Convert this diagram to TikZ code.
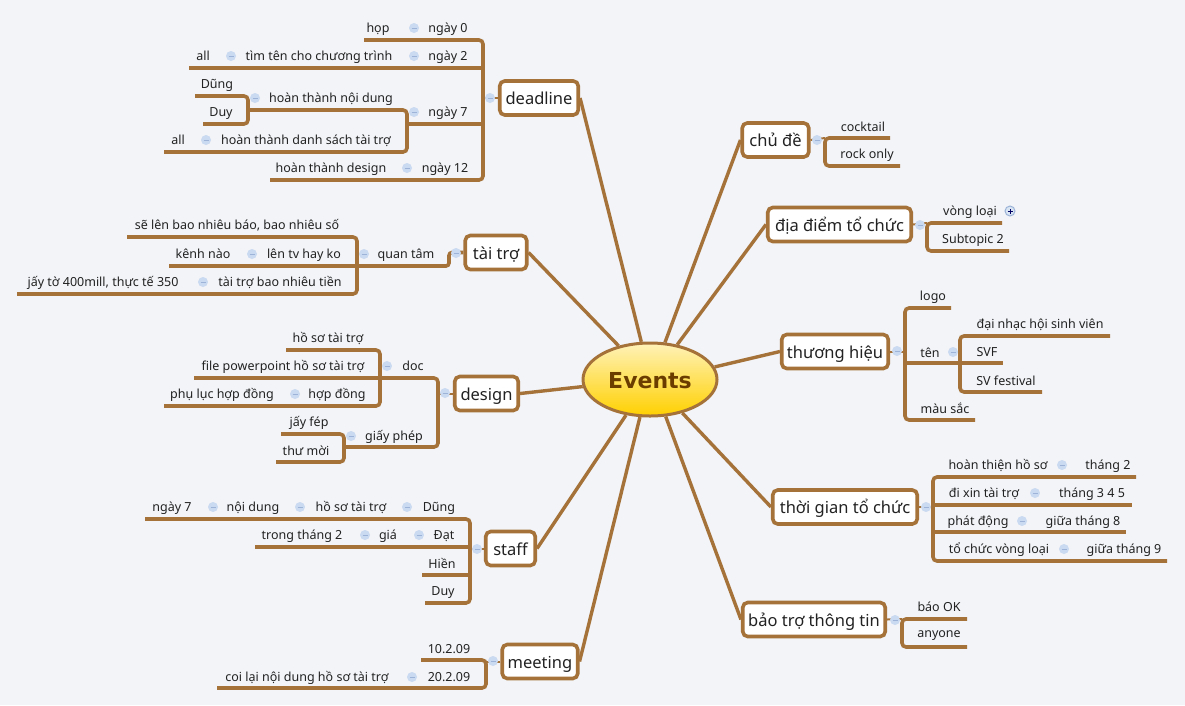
\documentclass[tikz,border=0pt]{standalone}
\usepackage{fontspec}
\setmainfont{Noto Sans}
\newfontfamily\evfont{DejaVu Sans}
\usetikzlibrary{shapes.geometric,calc}
\definecolor{bgc}{HTML}{F2F4F8}
\definecolor{brn}{HTML}{A5723A}
\definecolor{ink}{HTML}{222222}
\definecolor{icfill}{HTML}{CADAF0}
\definecolor{icmark}{HTML}{9DB4D8}
\definecolor{evtop}{HTML}{FFF2B8}
\definecolor{evbot}{HTML}{FFD000}
\definecolor{evink}{HTML}{6B3E00}
\tikzset{
  main/.style={draw=brn,line width=3.4pt},
  branch/.style={draw=brn,line width=3.6pt,rounded corners=4pt,line cap=butt},
  stub/.style={draw=brn,line width=2pt},
  topic/.style={draw=brn,fill=white,line width=3.6pt,rounded corners=5pt,inner sep=0pt,
    text=ink,font=\fontsize{16.5}{20}\selectfont,minimum height=34pt,text height=13pt,text depth=0pt},
  leaf/.style={anchor=base,inner sep=0pt,text=ink,font=\fontsize{12.5}{15}\selectfont},
  icon/.style={circle,fill=icfill,inner sep=0pt,minimum size=10pt,
    path picture={\draw[icmark,line width=1pt]
      ([xshift=-2.5pt]path picture bounding box.center) -- ([xshift=2.5pt]path picture bounding box.center);}},
  iconplus/.style={circle,draw=icmark,line width=1pt,fill=icfill!70,inner sep=0pt,minimum size=10pt,
    path picture={\draw[black!60!blue,line width=.9pt]
      ([xshift=-2.5pt]path picture bounding box.center) -- ([xshift=2.5pt]path picture bounding box.center)
      ([yshift=-2.5pt]path picture bounding box.center) -- ([yshift=2.5pt]path picture bounding box.center);}},
  central/.style={ellipse,draw=brn,line width=3pt,top color=evtop,bottom color=evbot,
    minimum width=134pt,minimum height=73pt,inner sep=0pt},
}
\newcounter{icn}
\newcommand{\ic}[2]{\stepcounter{icn}\node[icon] (ic\theicn) at (#1,#2) {};}
\newcommand{\tx}[4]{\node[leaf] (#1) at (#2,#3+4.5) {#4};}
\newcommand{\pt}[3]{\coordinate (#1) at (#2,#3);}
\newcommand{\tp}[6]{\node[topic,minimum width=#5pt] (#1) at (#2,#3) {#6};}
\begin{document}
\begin{tikzpicture}[x=1pt,y=-1pt]
\useasboundingbox (0,0) rectangle (1185,705);
\fill[bgc] (0,0) rectangle (1185,705);
% central and main topics
\node[central] (ev) at (650,379.5) {};
\tp{deadline}{539}{98}{}{78.5}{deadline}
\tp{taitro}{496}{252.5}{}{61.5}{tài trợ}
\tp{design}{486.5}{393.5}{}{63.5}{design}
\tp{staff}{510.5}{548.5}{}{49.5}{staff}
\tp{meeting}{540}{661.5}{}{75.5}{meeting}
\tp{chude}{775.5}{140}{}{66.5}{chủ đề}
\tp{diadiem}{839.5}{224.5}{}{143.5}{địa điểm tổ chức}
\tp{thuonghieu}{835}{351.5}{}{106.5}{thương hiệu}
\tp{thoigian}{845}{507}{}{144.5}{thời gian tổ chức}
\tp{baotro}{814}{619.5}{}{142.5}{bảo trợ thông tin}
\draw[main] (deadline.east) -- (ev.103.5);
\draw[main] (taitro.east) -- (ev.133);
\draw[main] (design.east) -- (ev.186);
\draw[main] (staff.east) -- (ev.236);
\draw[main] (meeting.east) -- (ev.255);
\draw[main] (chude.west) -- (ev.68.7);
\draw[main] (diadiem.west) -- (ev.52.5);
\draw[main] (thuonghieu.west) -- (ev.11.5);
\draw[main] (thoigian.west) -- (ev.314);
\draw[main] (baotro.west) -- (ev.293);
% deadline branch
\pt{dS}{483}{0}\pt{dT}{407}{0}\pt{dU}{248}{0}
\pt{d0}{364}{40}\pt{d1}{189}{68}\pt{d2}{407}{124}\pt{d3}{270}{180}
\pt{d4}{248}{110}\pt{d5}{164}{152}\pt{d6}{195}{96}\pt{d7}{203}{124}
\draw[branch] (d0) -- (d0 -| dS) -- (d3 -| dS) -- (d3);
\draw[branch] (d1) -- (d1 -| dS);
\draw[branch] (d2) -- (d2 -| dS);
\draw[branch] (d4) -- (d4 -| dT) -- (d5 -| dT) -- (d5);
\draw[branch] (d6) -- (d6 -| dU) -- (d7 -| dU) -- (d7);
\draw[stub] (deadline.west) -- (deadline.west -| dS);
\tx{a1}{378}{28}{họp}\ic{414}{28}\tx{a2}{448}{28}{ngày 0}
\tx{a3}{203}{56}{all}\ic{231}{56}\tx{a4}{319}{56}{tìm tên cho chương trình}\ic{414}{56}\tx{a5}{448}{56}{ngày 2}
\tx{a6}{217}{84}{Dũng}\tx{a7}{221}{112}{Duy}\ic{255}{98}\tx{a8}{331}{98}{hoàn thành nội dung}\ic{414}{112}\tx{a9}{448}{112}{ngày 7}
\tx{a10}{178}{140}{all}\ic{206}{140}\tx{a11}{306}{140}{hoàn thành danh sách tài trợ}
\tx{a12}{331}{168}{hoàn thành design}\ic{407}{168}\tx{a13}{445}{168}{ngày 12}
\ic{490}{98}
% tai tro branch
\pt{tS}{357}{0}\pt{tV}{449}{0}
\pt{t0}{127}{237}\pt{t1}{169}{266}\pt{t2}{17}{294}
\draw[branch] (t0) -- (t0 -| tS) -- (t2 -| tS) -- (t2);
\draw[branch,rounded corners=3pt] (t1) -- (t1 -| tV) -- (tV |- taitro.west) -- (taitro.west);
\tx{b1}{237}{225}{sẽ lên bao nhiêu báo, bao nhiêu số}
\tx{b2}{203}{254}{kênh nào}\ic{252}{254}\tx{b3}{304}{254}{lên tv hay ko}\ic{364}{254}\tx{b4}{406}{254}{quan tâm}
\tx{b5}{103}{282}{jấy tờ 400mill, thực tế 350}\ic{203}{282}\tx{b6}{280}{282}{tài trợ bao nhiêu tiền}
\ic{456}{253}
% design branch
\pt{eS}{380}{0}\pt{eT}{438}{0}\pt{eU}{344}{0}
\pt{e0}{286}{350}\pt{e1}{194}{378}\pt{e2}{164}{406}\pt{e3}{344}{447}\pt{e4}{281}{434}\pt{e5}{276}{462}
\draw[branch] (e0) -- (e0 -| eS) -- (e2 -| eS) -- (e2);
\draw[branch] (e1) -- (e1 -| eT) -- (e3 -| eT) -- (e3);
\draw[branch] (e4) -- (e4 -| eU) -- (e5 -| eU) -- (e5);
\draw[stub] (design.west) -- (design.west -| eT);
\tx{c1}{328}{338}{hồ sơ tài trợ}\tx{c2}{283}{366}{file powerpoint hồ sơ tài trợ}\ic{387}{366}\tx{c3}{413}{366}{doc}
\tx{c4}{222}{394}{phụ lục hợp đồng}\ic{295}{394}\tx{c5}{337}{394}{hợp đồng}
\tx{c6}{309}{422}{jấy fép}\tx{c7}{306}{451}{thư mời}\ic{351}{436}\tx{c8}{394}{436}{giấy phép}
\ic{445}{393}
% staff branch
\pt{fS}{470}{0}
\pt{f0}{145}{519}\pt{f1}{255}{547}\pt{f2}{422}{575}\pt{f3}{425}{603}
\draw[branch] (f0) -- (f0 -| fS) -- (f3 -| fS) -- (f3);
\draw[branch] (f1) -- (f1 -| fS);
\draw[branch] (f2) -- (f2 -| fS);
\draw[stub] (staff.west) -- (staff.west -| fS);
\tx{g1}{172}{507}{ngày 7}\ic{213}{507}\tx{g2}{253}{507}{nội dung}\ic{300}{507}\tx{g3}{351}{507}{hồ sơ tài trợ}\ic{407}{507}\tx{g4}{439}{507}{Dũng}
\tx{g5}{302}{535}{trong tháng 2}\ic{365}{535}\tx{g6}{388}{535}{giá}\ic{419}{535}\tx{g7}{444}{535}{Đạt}
\tx{g8}{442}{564}{Hiền}\tx{g9}{443}{591}{Duy}
\ic{477}{549}
% meeting branch
\pt{hS}{486}{0}\pt{h0}{421}{660}\pt{h1}{217}{688}
\draw[branch] (h0) -- (h0 -| hS) -- (h1 -| hS) -- (h1);
\draw[stub] (meeting.west) -- (meeting.west -| hS);
\tx{j1}{449}{649}{10.2.09}\tx{j2}{307}{677}{coi lại nội dung hồ sơ tài trợ}\ic{412}{677}\tx{j3}{449}{677}{20.2.09}
\ic{493}{661}
% chu de branch
\pt{kS}{825}{0}\pt{k0}{890}{138}\pt{k1}{900}{166}
\draw[branch] (k0) -- (k0 -| kS) -- (k1 -| kS) -- (k1);
\draw[stub] (chude.east) -- (k0 -| kS);
\tx{l1}{863}{127}{cocktail}\tx{l2}{867}{154}{rock only}
\ic{817}{140}
% dia diem branch
\pt{mS}{927}{0}\pt{m0}{1002}{223}\pt{m1}{1009}{251}
\draw[branch] (m0) -- (m0 -| mS) -- (m1 -| mS) -- (m1);
\draw[stub] (diadiem.east) -- (m0 -| mS);
\tx{n1}{970}{211}{vòng loại}\node[iconplus] (nplus) at (1010,211) {};\tx{n2}{973}{239}{Subtopic 2}
\ic{920}{225}
% thuong hieu branch
\pt{oS}{905}{0}\pt{oT}{960}{0}
\pt{o0}{951}{308}\pt{o1}{975}{420}\pt{o2}{1003}{363}\pt{o3}{1110}{336}\pt{o4}{1042}{392}
\draw[branch] (o0) -- (o0 -| oS) -- (o1 -| oS) -- (o1);
\draw[branch] (o2 -| oS) -- (o2);
\draw[branch] (o3) -- (o3 -| oT) -- (o4 -| oT) -- (o4);
\draw[stub] (thuonghieu.east) -- (thuonghieu.east -| oS);
\tx{p1}{933}{296}{logo}\tx{p2}{930}{353}{tên}\ic{953}{352}\tx{p3}{1040}{324}{đại nhạc hội sinh viên}\tx{p4}{987}{352}{SVF}\tx{p5}{1006}{381}{SV festival}\tx{p6}{945}{409}{màu sắc}
\ic{897}{351}
% thoi gian branch
\pt{qS}{933}{0}\pt{q0}{1136}{477}\pt{q1}{1132}{505}\pt{q2}{1126}{532}\pt{q3}{1167}{561}
\draw[branch] (q0) -- (q0 -| qS) -- (q3 -| qS) -- (q3);
\draw[branch] (q1 -| qS) -- (q1);
\draw[branch] (q2 -| qS) -- (q2);
\draw[stub] (thoigian.east) -- (thoigian.east -| qS);
\tx{r1}{998}{465}{hoàn thiện hồ sơ}\ic{1062}{465}\tx{r2}{1108}{465}{tháng 2}
\tx{r3}{984}{493}{đi xin tài trợ}\ic{1035}{493}\tx{r4}{1092}{493}{tháng 3 4 5}
\tx{r5}{978}{521}{phát động}\ic{1022}{521}\tx{r6}{1083}{521}{giữa tháng 8}
\tx{r7}{999}{549}{tổ chức vòng loại}\ic{1064}{549}\tx{r8}{1124}{549}{giữa tháng 9}
\ic{926}{507}
% bao tro branch
\pt{uS}{902}{0}\pt{u0}{967}{619}\pt{u1}{967}{647}
\draw[branch] (u0) -- (u0 -| uS) -- (u1 -| uS) -- (u1);
\draw[stub] (baotro.east) -- (u0 -| uS);
\tx{v1}{939}{607}{báo OK}\tx{v2}{939}{633}{anyone}
\ic{895}{620}
% central label
\node[inner sep=0pt,text=evink,font=\evfont\fontsize{22}{26}\selectfont\bfseries] (evlabel) at (650,380.5) {Events};
\end{tikzpicture}
\end{document}
